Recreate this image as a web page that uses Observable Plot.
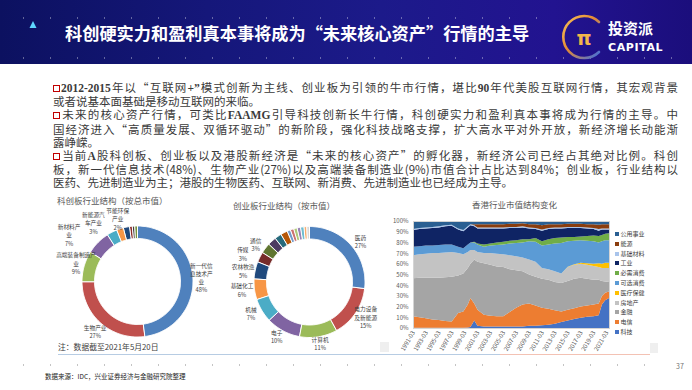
<!DOCTYPE html>
<html lang="zh-CN">
<head>
<meta charset="utf-8">
<script src="https://cdn.jsdelivr.net/npm/d3@7"></script>
<script src="https://cdn.jsdelivr.net/npm/@observablehq/plot@0.6"></script>
<style>
html,body{margin:0;padding:0;background:#fff;}
body{width:692px;height:390px;position:relative;overflow:hidden;font-family:"Noto Sans CJK SC","Noto Sans",sans-serif;}
.abs{position:absolute;}
#header{left:0;top:0;width:692px;height:64px;background:linear-gradient(90deg,#0c1160 0%,#15177a 30%,#1c1a8a 55%,#221390 80%,#1b0e7c 100%);}
.hdots{height:2px;background:radial-gradient(circle,rgba(255,255,255,0.35) 0.8px,transparent 1.1px) 0 0/27px 2px repeat-x;}
#title{left:65px;top:19px;font-size:17.2px;font-weight:700;color:#fff;white-space:nowrap;line-height:28px;}
#text{left:53px;top:81px;width:625px;font-size:11.5px;line-height:13.2px;color:#3a3a3a;}
#text .ln{text-align:justify;text-align-last:justify;}
#text .end{text-align:left;text-align-last:left;}
.bul{display:inline-block;width:5px;height:5px;border:1.7px solid #c00000;background:#fff;margin-right:1px;vertical-align:0px;}
b{font-family:"Liberation Serif","Times New Roman",serif;font-weight:700;}
.ctitle{font-size:8.5px;color:#595959;white-space:nowrap;line-height:10px;}
#legend{left:615px;top:229px;font-size:6px;color:#404040;}
#legend .it{height:9.8px;line-height:9.8px;white-space:nowrap;}
#legend .sw{display:inline-block;width:4px;height:4px;margin-right:1.5px;vertical-align:0px;}
</style>
</head>
<body>
<div id="header" class="abs"></div>
<div class="abs hdots" style="left:10px;top:17px;width:540px;"></div>
<div class="abs hdots" style="left:10px;top:57px;width:680px;"></div>
<svg class="abs" style="left:26px;top:18px" width="16" height="44">
  <defs><linearGradient id="ln1" x1="0" y1="0" x2="0" y2="1"><stop offset="0" stop-color="#3fa9ff"/><stop offset="1" stop-color="#3fa9ff" stop-opacity="0"/></linearGradient></defs>
  <line x1="7" y1="10" x2="7" y2="42" stroke="url(#ln1)" stroke-width="1.6"/>
  <path d="M7 3 L10.5 10 L3.5 10 Z" fill="#5fd6ff"/>
</svg>
<div id="title" class="abs">科创硬实力和盈利真本事将成为“未来核心资产”行情的主导</div>
<svg class="abs" style="left:555px;top:8px" width="130" height="54">
  <defs><linearGradient id="lg1" x1="0" y1="0" x2="1" y2="1"><stop offset="0" stop-color="#f6c25a"/><stop offset="0.45" stop-color="#e58a34"/><stop offset="1" stop-color="#3f6fe0"/></linearGradient></defs>
  <path d="M 44 14 A 21 21 0 1 0 44 44" fill="none" stroke="url(#lg1)" stroke-width="2.6" stroke-linecap="round"/>
  <text x="29" y="37" font-size="19" font-weight="700" fill="#f2b64c" text-anchor="middle" font-family="DejaVu Sans">π</text>
  <text x="53" y="26" font-size="15" font-weight="700" fill="#fff" font-family="Noto Sans CJK SC">投资派</text>
  <text x="53" y="43" font-size="11" font-weight="700" fill="#fff" letter-spacing="0.6" font-family="DejaVu Sans">CAPITAL</text>
</svg>

<div id="text" class="abs">
  <div class="ln"><span class="bul"></span><b>2012-2015</b>年以“互联网<b>+”</b>模式创新为主线、创业板为引领的牛市行情，堪比<b>90</b>年代美股互联网行情，其宏观背景</div>
  <div class="end">或者说基本面基础是移动互联网的来临。</div>
  <div class="ln"><span class="bul"></span>未来的核心资产行情，可类比<b>FAAMG</b>引导科技创新长牛行情，科创硬实力和盈利真本事将成为行情的主导。中</div>
  <div class="ln">国经济进入“高质量发展、双循环驱动”的新阶段，强化科技战略支撑，扩大高水平对外开放，新经济增长动能渐</div>
  <div class="end">露峥嵘。</div>
  <div class="ln"><span class="bul"></span>当前<b>A</b>股科创板、创业板以及港股新经济是“未来的核心资产”的孵化器，新经济公司已经占其绝对比例。科创</div>
  <div class="ln">板，新一代信息技术(48%)、生物产业(27%)以及高端装备制造业(9%)市值合计占比达到84%；创业板，行业结构以</div>
  <div class="end">医药、先进制造业为主；港股的生物医药、互联网、新消费、先进制造业也已经成为主导。</div>
</div>

<div class="abs ctitle" style="left:57px;top:195px;">科创板行业结构（按总市值）</div>
<div class="abs ctitle" style="left:233px;top:200px;">创业板行业结构（按市值）</div>
<div class="abs ctitle" style="left:472px;top:199px;">香港行业市值结构变化</div>

<div id="d1" class="abs" style="left:40px;top:200px;"></div>
<div id="d2" class="abs" style="left:215px;top:200px;"></div>
<div id="hk" class="abs" style="left:386px;top:210px;"></div>
<div id="legend" class="abs"></div>

<div class="abs" style="left:58px;top:342px;font-size:7.8px;color:#404040;white-space:nowrap;line-height:10px;">注：数据截至2021年5月20日</div>
<div class="abs" style="left:380px;top:342px;width:9px;height:10px;background:#efefef;"></div>
<div class="abs" style="left:650px;top:343px;width:8px;height:10px;background:#efefef;"></div>
<div class="abs" style="left:58px;top:354px;width:442px;height:1px;background:#b7cce3;"></div>
<div class="abs" style="left:500px;top:354px;width:150px;height:1px;background:#f3c2b4;"></div>
<div class="abs" style="left:10px;top:364px;width:650px;height:2px;background:radial-gradient(circle,#c4c4c4 0.8px,transparent 1.1px) 0 0/27px 2px repeat-x;"></div>
<div class="abs" style="left:45px;top:372px;font-size:6.5px;color:#222;white-space:nowrap;line-height:9px;">数据来源：IDC，兴业证券经济与金融研究院整理</div>
<div class="abs" style="left:676px;top:362px;font-size:7px;color:#777;line-height:9px;">37</div>

<script>
// ---------------- DATA ----------------
// 科创板行业结构（按总市值）, % of total market cap, clockwise from 12 o'clock
const kcbNames  = ["新一代信息技术产业","生物产业","高端装备制造产业","新材料产业","新能源汽车产业","节能环保产业","新能源产业","相关服务业","数字创意产业","其他"];
const kcbLabels = ["新一代信\n息技术产\n业","生物产业","高端装备制造产\n业","新材料产\n业","新能源汽\n车产业","节能环保\n产业","","","",""];
const kcbValues = [48, 27, 9, 7, 3, 2, 1.8, 0.8, 0.7, 0.7];
const kcbColors = ["#4F81BD","#C0504D","#9BBB59","#8064A2","#4BACC6","#F79646","#1F497D","#8B2B28","#404040","#77933C"];

// 创业板行业结构（按市值）
const cybNames  = ["医药","电力设备及新能源","计算机","电子","机械","基础化工","农林牧渔","传媒","通信","国防军工","汽车","轻工制造","食品饮料","建筑装饰","环保","家用电器","商贸零售","纺织服装","其他"];
const cybLabels = ["医药","电力设备\n及新能源","计算机","电子","机械","基础化工","农林牧渔","传媒","通信","","","","","","","","","",""];
const cybValues = [27, 15, 11, 10, 7, 6, 5, 3, 3, 2.5, 2, 2, 1, 1, 1, 1, 1, 0.8, 0.7];
const cybColors = ["#4F81BD","#C0504D","#9BBB59","#8064A2","#4BACC6","#F79646","#1F497D","#772C2A","#5F7530","#4D3B62","#276A7C","#B65708","#729ACA","#CD7371","#AFC97A","#9983B5","#6FBDD1","#F9AB6B","#D9D9D9"];

// 香港行业市值结构变化 (share of market cap, %), stacked bottom -> top
const hkDates = [1991,1992,1993,1994,1995,1996,1997,1998,1998.8,1999.5,1999.9,2000.5,2001,2002,2003,2004,2005,2006,2007,2008,2009,2010,2011,2012,2013,2014,2015,2016,2017,2018,2019,2019.8,2020.3,2020.8,2021.4];
const hkSeries = ["科技","电信","金融","房地产","医疗保健","可选消费","必需消费","工业","基础材料","能源","公用事业"];
const hkColors = ["#4472C4","#ED7D31","#A5A5A5","#C3C3C3","#FFC000","#5B9BD5","#70AD47","#0F2464","#A9C4EB","#8A3D0E","#2A5F92"];
const hkTech  = [0.3,0.3,0.3,0.3,0.3,0.3,0.3,0.3,0.3,0.5,1,7,2,1.5,1.5,1.5,1.5,1.5,1.5,1.5,2,2,2.5,3,4,5.5,7,8.5,9.5,10.5,11,12,22,26,28];
const hkTele  = [10.7,9.7,8.7,7.7,7.2,6.2,5.7,13.7,15.2,21.5,27,16,15,11,10,9.5,9.5,13.5,17.5,20.5,21,19,16.5,15,12.5,10,10,10,10.5,10.5,11,11,8,7,6];
const hkFin   = [35.5,37,38,39,39.5,41,42,35,35.5,34,32,41,45,48,47.5,46.5,46,40,35,31,27,27,27,27,26.5,26.5,27,27.5,27,25,23,22,14,10.5,9];
const hkRE    = [21.5,22,22.5,23,23,23,23,21,18,15,13,9,9,9.5,11,12,12,13,13,13,14,14,10,10,10,9,13,13,13,13,13,12,12,12.5,13];
const hkHC    = [0,0,0,0,0,0,0,0,0,0,0,0,0,0,0,0,0,0,0,0,0,0,0,0,0,0,0.2,0.5,1,1.5,2,3.5,4,5,5];
const hkCons  = [8,7.5,7.5,7,7.5,7.5,7,6,5.5,7,7,7,7,6,7,8,9,11,12.5,14,17,18.5,21,23,26,28.5,23.8,22,21,21,21,19.5,21,21,21];
const hkStap  = [0,0,0,0,0,0,0,0,0,0,0,0.5,1,2,2,2.5,2.5,2.5,2.5,3,2,3.5,4,5,5,5,4,3.5,3.5,4.5,5.5,6,6,6,6.5];
const hkInd   = [15.5,16,16,16.5,16.5,17,17.5,16,16,16,16,14.5,14,15,14,13,12.5,12,11.5,11,10,8.5,10,9.5,9,8.5,8.5,8.5,8,7,6,5,5,4,3.5];
const hkMat   = [1,1,1,1,1,1,1,1,1,1,1,1,1,1,1,1,1,1,1,1,1,1,1,1,1,1,1,1,1,1,1,1.5,1,1,1];
const hkEne   = [0,0,0,0,0,0,0,0,0,0,0,1,3,3,3,3,3,3,3,3,3,3.5,4,3.5,3,3,3,3,3,3,3.5,4,4,4,4];
const hkUtil  = [7.5,6.5,6,5.5,5,4,3.5,7,8.5,5,3,3,3,3,3,3,3,2.5,2.5,2,3,3,4,3,3,3,2.5,2.5,2.5,3,3,3.5,3,3,3];
const hkValues = [hkTech,hkTele,hkFin,hkRE,hkHC,hkCons,hkStap,hkInd,hkMat,hkEne,hkUtil];
const hkXTicks = [1991,1993,1995,1997,1999,2001,2003,2005,2007,2009,2011,2013,2015,2017,2019,2021];
const hkXTickLabels = ["1991-03","1993-03","1995-03","1997-03","1999-03","2001-03","2003-03","2005-03","2007-03","2009-03","2011-03","2013-03","2015-03","2017-03","2019-03","2021-03"];
const hkYTicks = [0,0.1,0.2,0.3,0.4,0.5,0.6,0.7,0.8,0.9,1];
const hkYTickLabels = ["0%","10%","20%","30%","40%","50%","60%","70%","80%","90%","100%"];

// ---------------- DONUTS ----------------
const FONT = "'Noto Sans CJK SC','Noto Sans',sans-serif";
function textWidth(s, fs) { let w = 0; for (const ch of s) w += ch.charCodeAt(0) > 255 ? fs : fs * 0.58; return w; }

function donut({values, colors, labels, width, height, cx, cy, rx, ry}) {
  const R = 55.5, r = 43, fs = 5.7, lh = 8.3, gap = 1.5;
  const arcs = d3.pie().sort(null).startAngle(0).endAngle(2 * Math.PI)(values);
  const marks = [];
  arcs.forEach((a, i) => {
    const n = Math.max(2, Math.ceil((a.endAngle - a.startAngle) / 0.02));
    const pts = [];
    for (let j = 0; j <= n; j++) { const t = a.startAngle + (a.endAngle - a.startAngle) * j / n; pts.push({x: R * Math.sin(t), y: R * Math.cos(t)}); }
    for (let j = n; j >= 0; j--) { const t = a.startAngle + (a.endAngle - a.startAngle) * j / n; pts.push({x: r * Math.sin(t), y: r * Math.cos(t)}); }
    marks.push(Plot.line(pts, {x: "x", y: "y", fill: colors[i], stroke: "#fff", strokeWidth: 1, curve: "linear-closed"}));
  });
  // label layout: elliptical radial position, then push labels apart when they collide
  const labs = [];
  arcs.forEach((a, i) => {
    if (!labels[i]) return;
    const mid = (a.startAngle + a.endAngle) / 2;
    const text = labels[i] + "\n" + values[i] + "%";
    const lines = text.split("\n");
    const w = Math.max(...lines.map(l => textWidth(l, fs)));
    const h = (lines.length - 1) * lh + fs * 1.45;
    labs.push({x: rx * Math.sin(mid), y: ry * Math.cos(mid), text, w, h,
               side: Math.sin(mid) >= 0 ? 1 : -1, vert: Math.abs(Math.cos(mid)) < 0.35});
  });
  for (const side of [1, -1]) {
    const group = labs.filter(d => d.side === side).sort((p, q) => q.y - p.y);
    const placed = [];
    for (const d of group) {
      let changed = true, iter = 0;
      while (changed && iter++ < 50) {
        changed = false;
        for (const p of placed) {
          if (Math.abs(p.x - d.x) < (p.w + d.w) / 2 + gap && Math.abs(p.y - d.y) < (p.h + d.h) / 2 + 0.3) {
            if (d.vert) d.y = p.y - ((p.h + d.h) / 2 + 0.5);
            else d.x = p.x + side * ((p.w + d.w) / 2 + gap);
            changed = true;
          }
        }
      }
      placed.push(d);
    }
  }
  marks.push(Plot.text(labs, {x: "x", y: "y", text: "text", fontSize: fs, lineHeight: lh / fs, fill: "#404040", fontFamily: FONT, textAnchor: "middle", lineAnchor: "middle"}));
  return Plot.plot({
    width, height, margin: 0, marginTop: 0, marginRight: 0, marginBottom: 0, marginLeft: 0,
    x: {domain: [-cx, width - cx], axis: null},
    y: {domain: [cy - height, cy], axis: null},
    style: {background: "transparent", overflow: "visible", fontFamily: FONT},
    marks
  });
}

document.getElementById("d1").appendChild(donut({values: kcbValues, colors: kcbColors, labels: kcbLabels, width: 185, height: 150, cx: 97, cy: 81, rx: 64, ry: 66}));
document.getElementById("d2").appendChild(donut({values: cybValues, colors: cybColors, labels: cybLabels, width: 175, height: 160, cx: 94, cy: 81.5, rx: 68, ry: 62}));

// ---------------- HONG KONG STACKED AREA ----------------
const hkLong = [];
hkSeries.forEach((s, k) => hkValues[k].forEach((v, i) => hkLong.push({date: hkDates[i], series: s, value: v})));
const hk = Plot.plot({
  width: 225, height: 146, marginLeft: 27, marginRight: 2, marginTop: 11, marginBottom: 28,
  style: {fontSize: "6px", fontFamily: FONT, color: "#595959", background: "transparent", overflow: "visible"},
  x: {domain: [1991, 2021.4], ticks: hkXTicks, tickFormat: d => hkXTickLabels[hkXTicks.indexOf(d)], tickRotate: -60, tickSize: 0, tickPadding: 3, label: null},
  y: {domain: [0, 1], ticks: hkYTicks, tickFormat: d => hkYTickLabels[hkYTicks.indexOf(d)], tickSize: 0, tickPadding: 5, label: null},
  color: {domain: hkSeries, range: hkColors},
  marks: [
    Plot.areaY(hkLong, {x: "date", y: "value", fill: "series", order: hkSeries, offset: "normalize", curve: "linear"}),
    Plot.frame({stroke: "#d4d4d4"})
  ]
});
document.getElementById("hk").appendChild(hk);

// legend (top -> bottom = reverse stacking order)
const leg = document.getElementById("legend");
hkSeries.slice().reverse().forEach(s => {
  const it = document.createElement("div"); it.className = "it";
  const sw = document.createElement("span"); sw.className = "sw"; sw.style.background = hkColors[hkSeries.indexOf(s)];
  it.appendChild(sw); it.appendChild(document.createTextNode(s));
  leg.appendChild(it);
});
</script>
</body>
</html>
